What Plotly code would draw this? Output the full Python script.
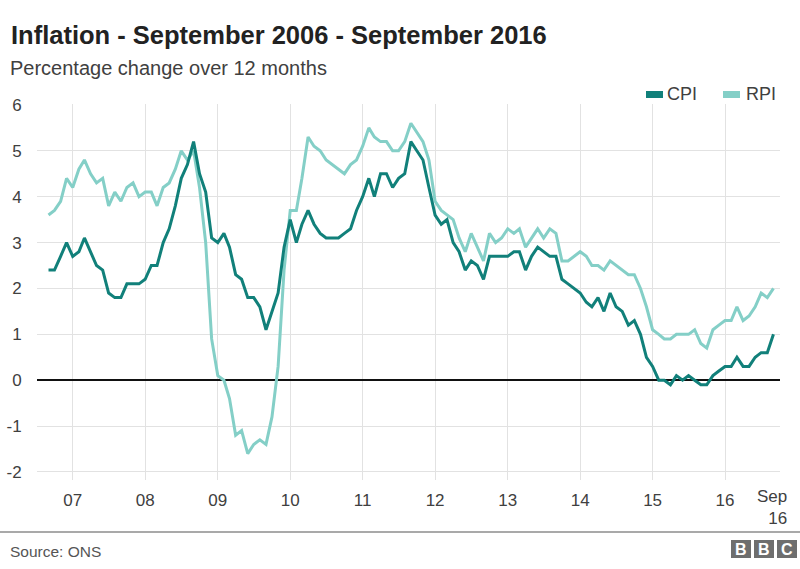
import plotly.graph_objects as go
import pandas as pd

# ---- data ----
dates = pd.date_range("2006-09-01", "2016-09-01", freq="MS")

cpi = [
    2.4, 2.4, 2.7, 3.0,
    2.7, 2.8, 3.1, 2.8, 2.5, 2.4, 1.9, 1.8, 1.8, 2.1, 2.1, 2.1,
    2.2, 2.5, 2.5, 3.0, 3.3, 3.8, 4.4, 4.7, 5.2, 4.5, 4.1, 3.1,
    3.0, 3.2, 2.9, 2.3, 2.2, 1.8, 1.8, 1.6, 1.1, 1.5, 1.9, 2.9,
    3.5, 3.0, 3.4, 3.7, 3.4, 3.2, 3.1, 3.1, 3.1, 3.2, 3.3, 3.7,
    4.0, 4.4, 4.0, 4.5, 4.5, 4.2, 4.4, 4.5, 5.2, 5.0, 4.8, 4.2,
    3.6, 3.4, 3.5, 3.0, 2.8, 2.4, 2.6, 2.5, 2.2, 2.7, 2.7, 2.7,
    2.7, 2.8, 2.8, 2.4, 2.7, 2.9, 2.8, 2.7, 2.7, 2.2, 2.1, 2.0,
    1.9, 1.7, 1.6, 1.8, 1.5, 1.9, 1.6, 1.5, 1.2, 1.3, 1.0, 0.5,
    0.3, 0.0, 0.0, -0.1, 0.1, 0.0, 0.1, 0.0, -0.1, -0.1, 0.1, 0.2,
    0.3, 0.3, 0.5, 0.3, 0.3, 0.5, 0.6, 0.6, 1.0,
]

rpi = [
    3.6, 3.7, 3.9, 4.4,
    4.2, 4.6, 4.8, 4.5, 4.3, 4.4, 3.8, 4.1, 3.9, 4.2, 4.3, 4.0,
    4.1, 4.1, 3.8, 4.2, 4.3, 4.6, 5.0, 4.8, 5.0, 4.2, 3.0, 0.9,
    0.1, 0.0, -0.4, -1.2, -1.1, -1.6, -1.4, -1.3, -1.4, -0.8, 0.3, 2.4,
    3.7, 3.7, 4.4, 5.3, 5.1, 5.0, 4.8, 4.7, 4.6, 4.5, 4.7, 4.8,
    5.1, 5.5, 5.3, 5.2, 5.2, 5.0, 5.0, 5.2, 5.6, 5.4, 5.2, 4.8,
    3.9, 3.7, 3.6, 3.5, 3.1, 2.8, 3.2, 2.9, 2.6, 3.2, 3.0, 3.1,
    3.3, 3.2, 3.3, 2.9, 3.1, 3.3, 3.1, 3.3, 3.2, 2.6, 2.6, 2.7,
    2.8, 2.7, 2.5, 2.5, 2.4, 2.6, 2.5, 2.4, 2.3, 2.3, 2.0, 1.6,
    1.1, 1.0, 0.9, 0.9, 1.0, 1.0, 1.0, 1.1, 0.8, 0.7, 1.1, 1.2,
    1.3, 1.3, 1.6, 1.3, 1.4, 1.6, 1.9, 1.8, 2.0,
]

year_ticks = [f"{y}-01-01" for y in range(2007, 2017)]
year_labels = ["07", "08", "09", "10", "11", "12", "13", "14", "15", "16"]
y_ticks = [-2, -1, 0, 1, 2, 3, 4, 5, 6]
y_labels = ["-2", "-1", "0", "1", "2", "3", "4", "5", "6"]

CPI_COLOR = "#11807a"
RPI_COLOR = "#84cfc7"
TEXT = "#404040"
FONT = "Liberation Sans, Arial, Helvetica, sans-serif"

# ---- layout geometry (pixels) ----
W, H = 800, 569
L, R, T, B = 37, 20, 104, 89
PW, PH = W - L - R, H - T - B


def px(xp):
    return (xp - L) / PW


def py(yp):
    return (H - B - yp) / PH


fig = go.Figure()
fig.add_trace(go.Scatter(x=dates, y=rpi, mode="lines", name="RPI",
                         line=dict(color=RPI_COLOR, width=3), showlegend=False))
fig.add_trace(go.Scatter(x=dates, y=cpi, mode="lines", name="CPI",
                         line=dict(color=CPI_COLOR, width=3), showlegend=False))

shapes = []
annotations = []

# legend (manual)
shapes.append(dict(type="rect", xref="paper", yref="paper",
                   x0=px(646), x1=px(663), y0=py(98), y1=py(91),
                   fillcolor=CPI_COLOR, line=dict(width=0)))
shapes.append(dict(type="rect", xref="paper", yref="paper",
                   x0=px(723), x1=px(740), y0=py(98), y1=py(91),
                   fillcolor=RPI_COLOR, line=dict(width=0)))
annotations.append(dict(text="CPI", xref="paper", yref="paper", x=px(665), y=py(94),
                        xanchor="left", yanchor="middle", showarrow=False,
                        font=dict(size=18, color=TEXT, family=FONT)))
annotations.append(dict(text="RPI", xref="paper", yref="paper", x=px(744), y=py(94),
                        xanchor="left", yanchor="middle", showarrow=False,
                        font=dict(size=18, color=TEXT, family=FONT)))

# subtitle
annotations.append(dict(text="Percentage change over 12 months", xref="paper", yref="paper",
                        x=px(8), y=py(68), xanchor="left", yanchor="middle", showarrow=False,
                        font=dict(size=20, color=TEXT, family=FONT)))

# final x label
annotations.append(dict(text="Sep<br>16", xref="paper", yref="paper",
                        x=px(789), y=py(485), xanchor="right", yanchor="top",
                        align="right", showarrow=False,
                        font=dict(size=17, color=TEXT, family=FONT)))

# footer line
shapes.append(dict(type="line", xref="paper", yref="paper",
                   x0=px(0), x1=px(800), y0=py(532), y1=py(532),
                   line=dict(color="#8c8c8c", width=1.5)))
annotations.append(dict(text="Source: ONS", xref="paper", yref="paper",
                        x=px(8), y=py(551), xanchor="left", yanchor="middle", showarrow=False,
                        font=dict(size=15.5, color="#555555", family=FONT)))

# BBC blocks
for i, letter in enumerate("BBC"):
    x0 = 731 + i * 23
    shapes.append(dict(type="rect", xref="paper", yref="paper",
                       x0=px(x0), x1=px(x0 + 20), y0=py(558), y1=py(540),
                       fillcolor="#6e6e6e", line=dict(width=0)))
    annotations.append(dict(text=f"<b>{letter}</b>", xref="paper", yref="paper",
                            x=px(x0 + 10), y=py(549.5), xanchor="center", yanchor="middle",
                            showarrow=False,
                            font=dict(size=16, color="white", family=FONT)))

fig.update_layout(
    width=W, height=H,
    margin=dict(l=L, r=R, t=T, b=B, pad=0, autoexpand=False),
    paper_bgcolor="white", plot_bgcolor="white",
    title=dict(text="<b>Inflation - September 2006 - September 2016</b>",
               xref="container", yref="container", x=11 / W, y=1 - 35 / H,
               xanchor="left", yanchor="middle",
               font=dict(size=25.5, color="#222222", family=FONT)),
    font=dict(family=FONT, color=TEXT),
    shapes=shapes, annotations=annotations,
    xaxis=dict(type="date", range=["2006-07-05", "2016-10-04"],
               tickvals=year_ticks, ticktext=year_labels,
               showgrid=True, gridcolor="#e2e2e2", gridwidth=1,
               zeroline=False, showline=False, automargin=False,
               ticks="outside", ticklen=5, tickcolor="rgba(0,0,0,0)",
               tickfont=dict(size=17, color=TEXT, family=FONT)),
    yaxis=dict(range=[-2.175, 6.02], tickvals=y_ticks, ticktext=y_labels,
               showgrid=True, gridcolor="#e2e2e2", gridwidth=1,
               zeroline=True, zerolinecolor="#111111", zerolinewidth=1.5,
               showline=False, automargin=False,
               ticks="outside", ticklen=11, tickcolor="rgba(0,0,0,0)",
               tickfont=dict(size=17, color=TEXT, family=FONT)),
)

fig.write_html("out.html", config={"displayModeBar": False},
               post_script="document.body.style.margin='0px';")
